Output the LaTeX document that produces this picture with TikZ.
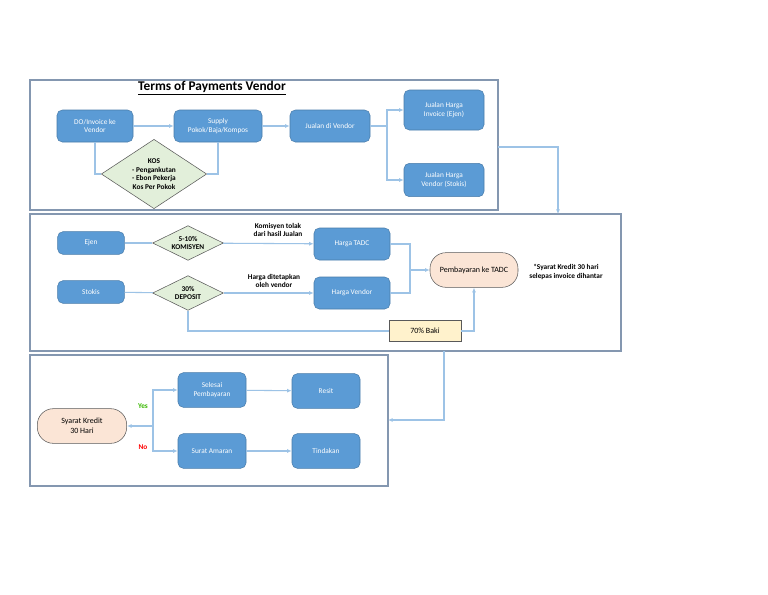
\documentclass[tikz,border=0pt]{standalone}
\usepackage{fontspec}
\setmainfont{Carlito}
\usetikzlibrary{shapes.geometric,arrows.meta}
\definecolor{bbox}{HTML}{5B9BD5}
\definecolor{bline}{HTML}{9DC3E6}
\definecolor{frm}{HTML}{8497B0}
\definecolor{dfill}{HTML}{E2EFDA}
\definecolor{peach}{HTML}{FBE5D6}
\definecolor{ylw}{HTML}{FFF2CC}
\begin{document}
\begin{tikzpicture}[x=0.75pt,y=-0.75pt,
 frame/.style={draw=frm,line width=0.8pt},
 bx/.style={draw=bbox!80!black,fill=bbox,text=white,rounded corners=4pt,font=\fontsize{5.5}{6.5}\selectfont,align=center,inner sep=0pt},
 dm/.style={diamond,aspect=2,draw=gray!70!black,fill=dfill,font=\fontsize{5.5}{6.5}\selectfont\bfseries,align=center,inner sep=0pt},
 pe/.style={draw=gray!70!black,fill=peach,rounded corners=12pt,font=\fontsize{6}{7.5}\selectfont,align=center,inner sep=0pt},
 ln/.style={draw=bline,line width=0.8pt},
 ar/.style={ln,-{Latex[length=3.5pt,width=3pt]}},
 lb/.style={font=\fontsize{5.5}{6.5}\selectfont\bfseries,align=center,inner sep=0pt}]
\useasboundingbox (0,0) rectangle (768,594);
\fill[white] (0,0) rectangle (768,594);
% frames
\draw[frame] (30,80) rectangle (498,210);
\draw[frame] (30,214) rectangle (621,351);
\draw[frame] (30,355) rectangle (388,486);
\node[font=\fontsize{10}{12}\selectfont\bfseries] (title) at (212,88) {\underline{Terms of Payments Vendor}};
% section 1
\node[bx,minimum width=57pt,minimum height=24pt] (do) at (95,126) {DO/Invoice ke\\Vendor};
\node[bx,minimum width=66pt,minimum height=24pt] (sup) at (218,126) {Supply\\Pokok/Baja/Kompos};
\node[bx,minimum width=60pt,minimum height=24pt] (jv) at (330,126) {Jualan di Vendor};
\node[bx,minimum width=60pt,minimum height=30pt] (ji) at (444,110) {Jualan Harga\\Invoice (Ejen)};
\node[bx,minimum width=60pt,minimum height=25pt] (js) at (444,180) {Jualan Harga\\Vendor (Stokis)};
\node[dm,minimum width=75pt,minimum height=52pt] (kos) at (154,174) {KOS\\- Pengankutan\\- Ebon Pekerja\\Kos Per Pokok};
\draw[ar] (do) -- (sup);
\draw[ar] (sup) -- (jv);
\coordinate (b1) at (387,126);
\draw[ln] (jv) -- (b1);
\draw[ar] (b1) |- (ji.west);
\draw[ar] (b1) |- (js.west);
\draw[ln] (do.south) |- (kos.west);
\draw[ln] (sup.south) |- (kos.east);
\coordinate (f1) at (498,147);
\draw[ar] (f1) -- (558,147) -- (558,214);
% section 2
\node[bx,minimum width=50pt,minimum height=17pt] (ejen) at (91,243) {Ejen};
\node[bx,minimum width=50pt,minimum height=17pt] (stok) at (91,292) {Stokis};
\node[dm,minimum width=53pt,minimum height=26pt] (d1) at (188,243) {5-10\%\\KOMISYEN};
\node[dm,minimum width=53pt,minimum height=26pt] (d2) at (188,293) {30\%\\DEPOSIT};
\node[bx,minimum width=57pt,minimum height=24pt] (htadc) at (352,244) {Harga TADC};
\node[bx,minimum width=57pt,minimum height=24pt] (hven) at (352,293) {Harga Vendor};
\node[pe,minimum width=66pt,minimum height=26pt] (pay) at (474,270) {Pembayaran ke TADC};
\node[draw=gray!70!black,fill=ylw,minimum width=54pt,minimum height=16pt,font=\fontsize{6}{7}\selectfont,inner sep=0pt] (baki) at (425,331) {70\% Baki};
\node[lb] (n1) at (278,230) {Komisyen tolak\\dari hasil Jualan};
\node[lb] (n2) at (274,281) {Harga ditetapkan\\oleh vendor};
\node[lb] (n3) at (566,272) {*Syarat Kredit 30 hari\\selepas invoice dihantar};
\draw[ln] (ejen) -- (d1);
\draw[ln] (stok) -- (d2);
\draw[ar] (d1) -- (htadc);
\draw[ar] (d2) -- (hven);
\coordinate (m) at (410,270);
\draw[ln] (htadc.east) -| (m);
\draw[ln] (hven.east) -| (m);
\draw[ar] (m) -- (pay);
\draw[ln] (d2.south) |- (baki.west);
\draw[ar] (baki.east) -| (pay.south);
\coordinate (f2) at (444,351);
\draw[ar] (f2) -- (444,420) -- (388,420);
% section 3
\node[pe,minimum width=67pt,minimum height=26pt] (sk) at (82,426) {Syarat Kredit\\30 Hari};
\node[bx,minimum width=51pt,minimum height=26pt] (sel) at (212,390) {Selesai\\Pembayaran};
\node[bx,minimum width=51pt,minimum height=26pt] (res) at (326,391) {Resit};
\node[bx,minimum width=51pt,minimum height=26pt] (sur) at (212,451) {Surat Amaran};
\node[bx,minimum width=51pt,minimum height=26pt] (tin) at (326,451) {Tindakan};
\coordinate (b3) at (153,426);
\draw[ar] (b3) -- (sk);
\draw[ar] (b3) |- (sel.west);
\draw[ar] (b3) |- (sur.west);
\draw[ar] (sel) -- (res);
\draw[ar] (sur) -- (tin);
\node[lb,text=green!60!black!70!lime] (yes) at (143,406) {Yes};
\node[lb,text=red] (no) at (143,447) {No};
\end{tikzpicture}
\end{document}
